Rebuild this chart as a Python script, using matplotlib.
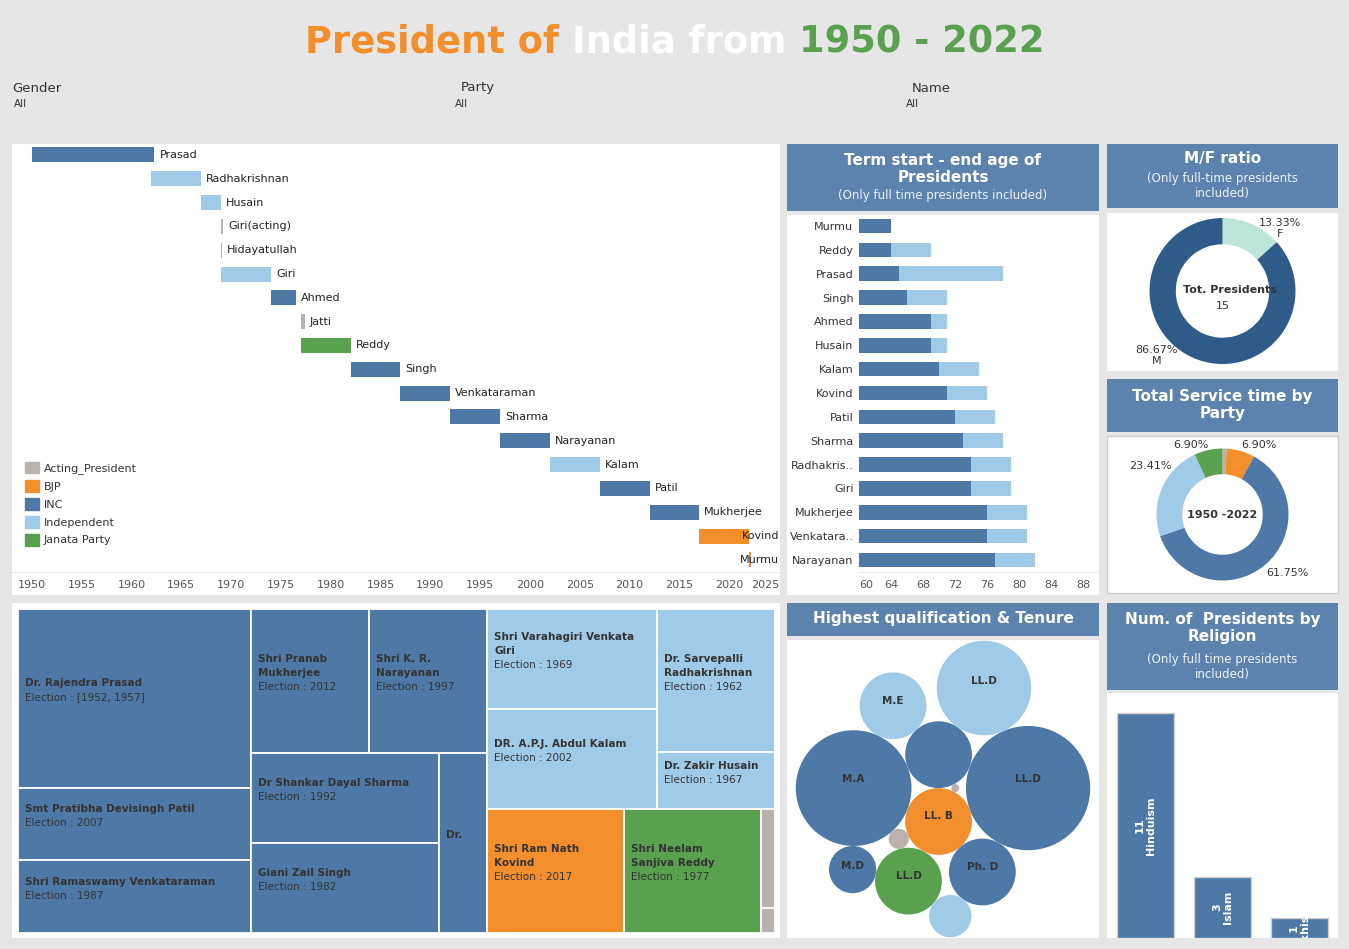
import matplotlib
matplotlib.use('Agg')
import matplotlib.pyplot as plt
from matplotlib.patches import Rectangle, Circle, Patch
import numpy as np

W, H = 1349, 949
BG = '#e6e6e6'
HDR = '#5b83ad'
TXT = '#333333'
party_colors = {'Acting_President': '#bab0ac', 'BJP': '#f28e2b', 'INC': '#4e79a7',
                'Independent': '#a0cbe8', 'Janata Party': '#59a14f'}

# --- gantt: term of each president
gantt_names = ['Prasad', 'Radhakrishnan', 'Husain', 'Giri(acting)', 'Hidayatullah', 'Giri', 'Ahmed',
               'Jatti', 'Reddy', 'Singh', 'Venkataraman', 'Sharma', 'Narayanan', 'Kalam', 'Patil',
               'Mukherjee', 'Kovind', 'Murmu']
gantt_start = [1950, 1962, 1967, 1969, 1969, 1969, 1974, 1977, 1977, 1982, 1987, 1992, 1997, 2002,
               2007, 2012, 2017, 2022]
gantt_end = [1962.3, 1967, 1969, 1969.2, 1969.1, 1974, 1976.5, 1977.4, 1982, 1987, 1992, 1997, 2002,
             2007, 2012, 2017, 2022, 2022.2]
gantt_party = ['INC', 'Independent', 'Independent', 'Acting_President', 'Acting_President', 'Independent',
               'INC', 'Acting_President', 'Janata Party', 'INC', 'INC', 'INC', 'INC', 'Independent',
               'INC', 'INC', 'BJP', 'BJP']

# --- term start / end age
age_names = ['Murmu', 'Reddy', 'Prasad', 'Singh', 'Ahmed', 'Husain', 'Kalam', 'Kovind', 'Patil', 'Sharma',
             'Radhakris..', 'Giri', 'Mukherjee', 'Venkatara..', 'Narayanan']
age_start = [64, 64, 65, 66, 69, 69, 70, 71, 72, 73, 74, 74, 76, 76, 77]
age_end = [64, 69, 78, 71, 71, 71, 75, 76, 77, 78, 79, 79, 81, 81, 82]

# --- gender ratio
mf_labels = ['F', 'M']
mf_counts = [2, 13]

# --- service time by party (%)
party_names = ['Acting_President', 'BJP', 'INC', 'Independent', 'Janata Party']
party_share = [1.04, 6.90, 61.75, 23.41, 6.90]

# --- treemap (tenure in years)
tm_group = ['INC', 'INC', 'INC', 'INC', 'INC', 'INC', 'INC', 'INC',
            'Independent', 'Independent', 'Independent', 'Independent',
            'BJP', 'Janata Party', 'Acting_President', 'Acting_President']
tm_names = ['Dr. Rajendra Prasad', 'Smt Pratibha Devisingh Patil', 'Shri Ramaswamy Venkataraman',
            'Shri Pranab\nMukherjee', 'Shri K. R.\nNarayanan', 'Dr Shankar Dayal Sharma', 'Giani Zail Singh',
            'Dr.', 'Shri Varahagiri Venkata\nGiri', 'DR. A.P.J. Abdul Kalam', 'Dr. Sarvepalli\nRadhakrishnan',
            'Dr. Zakir Husain', 'Shri Ram Nath\nKovind', 'Shri Neelam\nSanjiva Reddy', '', '']
tm_election = ['[1952, 1957]', '2007', '1987', '2012', '1997', '1992', '1982', '', '1969', '2002', '1962',
               '1967', '2017', '1977', '', '']
tm_years = [12.3, 5, 5, 5, 5, 5, 5, 2.55, 5, 5, 5, 2.0, 5, 5, 0.4, 0.1]

# --- qualification bubbles
bub_qual = ['', 'LL. B', 'LL.D', 'M.A', '', '', 'Ph. D', 'LL.D', 'M.E', 'LL.D', 'M.D', '']
bub_party = ['INC', 'BJP', 'INC', 'INC', 'Acting_President', 'Acting_President', 'INC', 'Janata Party',
             'Independent', 'Independent', 'INC', 'Independent']
bub_years = [5.0, 5.0, 17.3, 15.0, 0.45, 0.07, 5.0, 5.0, 5.0, 10.0, 2.5, 2.0]

# --- religion
rel_names = ['Hinduism', 'Islam', 'Sikhism']
rel_counts = [11, 3, 1]


def fbox(x0, y0, x1, y1):
    return [x0 / W, 1 - y1 / H, (x1 - x0) / W, (y1 - y0) / H]


def panel(x0, y0, x1, y1, color='white', ec='none'):
    fig.add_artist(Rectangle((x0 / W, 1 - y1 / H), (x1 - x0) / W, (y1 - y0) / H,
                             transform=fig.transFigure, fc=color, ec=ec, lw=1, zorder=-1))


def header(x0, y0, x1, y1, title, ty, sub=None, sy=None):
    panel(x0, y0, x1, y1, HDR)
    fig.text((x0 + x1) / 2 / W, 1 - ty / H, title, ha='center', va='center', color='white',
             fontsize=11, fontweight='bold', linespacing=1.1)
    if sub:
        fig.text((x0 + x1) / 2 / W, 1 - sy / H, sub, ha='center', va='center', color='#eef2f7',
                 fontsize=8.5, linespacing=1.15)


def squarify(values, x, y, w, h, k=2.6):
    # squarified layout, wide cells penalised less (text is horizontal)
    def score(cw, ch):
        return ch / cw if ch > cw else (cw / ch) / k

    def worst(row, rem, w, h):
        s = sum(row)
        if w >= h:
            cw = s / rem * w
            return max(score(cw, v / s * h) for v in row)
        rh = s / rem * h
        return max(score(v / s * w, rh) for v in row)

    rects = []
    i = 0
    while i < len(values):
        rem = sum(values[i:])
        j = i + 1
        while j < len(values) and worst(values[i:j + 1], rem, w, h) <= worst(values[i:j], rem, w, h):
            j += 1
        row = values[i:j]
        s = sum(row)
        if w >= h:
            cw = s / rem * w
            yy = y
            for v in row:
                ch = v / s * h
                rects.append((x, yy, cw, ch))
                yy += ch
            x += cw
            w -= cw
        else:
            rh = s / rem * h
            xx = x
            for v in row:
                cw = v / s * w
                rects.append((xx, y, cw, rh))
                xx += cw
            y += rh
            h -= rh
        i = j
    return rects


def pack_circles(radii):
    # greedy packing: each circle tangent to two placed ones, as near the start as possible
    n = len(radii)
    pos = [None] * n
    pos[0] = np.array([0.0, 0.0])
    pos[1] = np.array([0.0, -(radii[0] + radii[1])])
    cen = 0.45 * pos[0] + 0.55 * pos[1]
    placed = [0, 1]
    for i in range(2, n):
        r = radii[i]
        best, bestd = None, np.inf
        for ia in range(len(placed)):
            for ib in range(ia + 1, len(placed)):
                A, B = placed[ia], placed[ib]
                pa, pb = pos[A], pos[B]
                da, db = radii[A] + r, radii[B] + r
                d = np.linalg.norm(pb - pa)
                if d == 0 or d > da + db or d < abs(da - db):
                    continue
                a = (da ** 2 - db ** 2 + d ** 2) / (2 * d)
                hh = np.sqrt(max(da ** 2 - a ** 2, 0))
                base = pa + a * (pb - pa) / d
                perp = np.array([-(pb - pa)[1], (pb - pa)[0]]) / d
                for s in (1, -1):
                    c = base + s * hh * perp
                    if all(np.linalg.norm(c - pos[q]) >= radii[q] + r - 1e-6 for q in placed):
                        dist = np.linalg.norm(c - cen)
                        if dist < bestd - 1e-9:
                            best, bestd = c, dist
        pos[i] = best
        placed.append(i)
    return pos


fig = plt.figure(figsize=(W / 100, H / 100), dpi=100, facecolor=BG)
renderer = fig.canvas.get_renderer()

# title in three colours
parts = [('President of', '#f28e2b'), ('India from', 'white'), ('1950 - 2022', '#59a14f')]
tprops = dict(fontsize=26.5, fontweight='bold', va='center')
sp = fig.text(0, 0, 'a a', **tprops)
sp2 = fig.text(0, 0, 'aa', **tprops)
space = sp.get_window_extent(renderer).width - sp2.get_window_extent(renderer).width
sp.remove()
sp2.remove()
items = [fig.text(0, 1 - 42 / H, s, color=c, **tprops) for s, c in parts]
widths = [t.get_window_extent(renderer).width for t in items]
total = sum(widths) + space * (len(items) - 1)
xpos = (W - total) / 2
for t, w in zip(items, widths):
    t.set_x(xpos / W)
    xpos += w + space

# filters
for lab, x, xa in [('Gender', 12, 14), ('Party', 461, 455), ('Name', 912, 906)]:
    fig.text(x / W, 1 - 88 / H, lab, fontsize=9.5, color=TXT, va='center')
    fig.text(xa / W, 1 - 104 / H, 'All', fontsize=7.5, color=TXT, va='center')

# ---------------- gantt
panel(12, 144, 780, 595)
ax = fig.add_axes(fbox(12, 144, 780, 572))
ax.set_facecolor('none')
for i in range(len(gantt_names)):
    ax.barh(i, gantt_end[i] - gantt_start[i], left=gantt_start[i], height=0.63,
            color=party_colors[gantt_party[i]])
ax.set_xlim(1948.0, 2025.1)
ax.set_ylim(17.51, -0.46)
ax.set_yticks([])
ax.set_xticks(range(1950, 2026, 5))
ax.tick_params(axis='x', length=0, labelsize=8, labelcolor='#555555', pad=6)
ax.get_xticklabels()[-1].set_ha('right')
for s in ['top', 'left', 'right']:
    ax.spines[s].set_visible(False)
ax.spines['bottom'].set_color('#ebebeb')
ax_right = ax.get_window_extent(renderer).x1
for i, name in enumerate(gantt_names):
    t = ax.text(gantt_end[i] + 0.5, i, name, va='center', fontsize=8, color='#222222')
    if t.get_window_extent(renderer).x1 > ax_right:
        t.set_x(2025.0)
        t.set_ha('right')
handles = [Patch(color=party_colors[p], label=p) for p in party_names]
ax.legend(handles=handles, loc='upper left', bbox_to_anchor=(0.017, 0.258), frameon=False, fontsize=8,
          handlelength=1.25, handleheight=1.25, handletextpad=0.45, labelspacing=0.55, borderpad=0,
          borderaxespad=0, labelcolor='#333333')

# ---------------- term ages
header(787, 144, 1099, 211, 'Term start - end age of\nPresidents', 169, '(Only full time presidents included)', 196)
panel(787, 215, 1099, 595)
ax2 = fig.add_axes(fbox(859, 215, 1099, 572))
ax2.set_facecolor('none')
yy = np.arange(len(age_names))
ax2.barh(yy, age_start, height=0.61, color=party_colors['INC'])
ax2.barh(yy, np.array(age_end) - np.array(age_start), left=age_start, height=0.61,
         color=party_colors['Independent'])
ax2.set_xlim(60, 90)
ax2.set_ylim(14.5, -0.46)
ax2.set_yticks(yy)
ax2.set_yticklabels(age_names)
ax2.set_xticks(range(60, 89, 4))
ax2.tick_params(axis='y', length=0, labelsize=8, labelcolor=TXT, pad=4)
ax2.tick_params(axis='x', length=0, labelsize=8, labelcolor='#555555', pad=6)
ax2.get_xticklabels()[0].set_ha('left')
for s in ['top', 'left', 'right']:
    ax2.spines[s].set_visible(False)
ax2.spines['bottom'].set_color('#ebebeb')

# ---------------- M/F donut
header(1107, 144, 1338, 208, 'M/F ratio', 159, '(Only full-time presidents\nincluded)', 186)
panel(1107, 213, 1338, 371)
ax3 = fig.add_axes(fbox(1107, 213, 1338, 371))
ax3.pie(mf_counts, colors=['#bde4d8', '#2e5b88'], startangle=90, counterclock=False,
        wedgeprops=dict(width=0.36, edgecolor='none'))
ax3.set_xlim(-115.5 / 73, 115.5 / 73)
ax3.set_ylim(-80 / 73, 78 / 73)
ax3.set_aspect('equal', adjustable='datalim')
tot = sum(mf_counts)
for (x, y), lab, c in zip([(0.79, 0.86), (-0.9, -0.88)], mf_labels, mf_counts):
    ax3.text(x, y, f'{c / tot * 100:.2f}%\n{lab}', ha='center', va='center', fontsize=8, color=TXT,
             linespacing=1.1)
ax3.text(0.1, 0.02, 'Tot. Presidents', ha='center', va='center', fontsize=8, fontweight='bold', color=TXT)
ax3.text(0, -0.2, str(tot), ha='center', va='center', fontsize=8, color=TXT)

# ---------------- party donut
header(1107, 379, 1338, 432, 'Total Service time by\nParty', 405)
panel(1107, 436, 1338, 593, ec='#cccccc')
ax4 = fig.add_axes(fbox(1107, 436, 1338, 593))
ax4.pie(party_share, colors=[party_colors[p] for p in party_names], startangle=90, counterclock=False,
        wedgeprops=dict(width=0.39, edgecolor='none'))
ax4.set_xlim(-115.5 / 66, 115.5 / 66)
ax4.set_ylim(-78.5 / 66, 78.5 / 66)
ax4.set_aspect('equal', adjustable='datalim')
party_lab_xy = [None, (0.545, 1.06), (0.985, -0.88), (-1.1, 0.73), (-0.485, 1.06)]
for xy, v in zip(party_lab_xy, party_share):
    if xy:
        ax4.text(xy[0], xy[1], f'{v:.2f}%', ha='center', va='center', fontsize=8, color=TXT)
ax4.text(0, 0, f'{int(min(gantt_start))} -2022', ha='center', va='center', fontsize=8, fontweight='bold',
         color=TXT)

# ---------------- treemap
panel(12, 603, 780, 938)
ax7 = fig.add_axes(fbox(18, 609, 775, 933))
ax7.set_axis_off()
TW, TH = 757, 324
ax7.set_xlim(0, TW)
ax7.set_ylim(TH, 0)
groups = []
for g in tm_group:
    if g not in groups:
        groups.append(g)
gsum = [sum(v for v, gg in zip(tm_years, tm_group) if gg == g) for g in groups]
gorder = sorted(range(len(groups)), key=lambda i: -gsum[i])
grects = squarify([gsum[i] for i in gorder], 0, 0, TW, TH)
for gi, (gx, gy, gw, gh) in zip(gorder, grects):
    idx = [i for i, gg in enumerate(tm_group) if gg == groups[gi]]
    idx = sorted(idx, key=lambda i: -tm_years[i])
    rects = squarify([tm_years[i] for i in idx], gx, gy, gw, gh)
    for i, (x, y, w, h) in zip(idx, rects):
        ax7.add_patch(Rectangle((x, y), w, h, fc=party_colors[tm_group[i]], ec='white', lw=1.3))
        lines = []
        if tm_names[i]:
            lines += [(l, 'bold') for l in tm_names[i].split('\n')]
        if tm_election[i]:
            lines.append(('Election : ' + tm_election[i], 'normal'))
        n = len(lines)
        for k, (txt, fw) in enumerate(lines):
            ty = y + h / 2 - 8 - n * 14 / 2 + 14 * (k + 0.5)
            ax7.text(x + 7, ty, txt, fontsize=7.5, fontweight=fw, color=TXT, va='center', clip_on=True)

# ---------------- qualification bubbles
header(787, 603, 1099, 636, 'Highest qualification & Tenure', 619)
panel(787, 640, 1099, 938)
ax6 = fig.add_axes(fbox(787, 640, 1099, 938))
ax6.set_axis_off()
radii = [np.sqrt(v) for v in bub_years]
centers = pack_circles(radii)
for c, r, q, p in zip(centers, radii, bub_qual, bub_party):
    ax6.add_patch(Circle(c, r, fc=party_colors[p], ec='none'))
    if q:
        ax6.text(c[0], c[1] + 0.15 * r, q, ha='center', va='center', fontsize=7.5, fontweight='bold', color=TXT)
xs = [c[0] for c in centers]
ys = [c[1] for c in centers]
ax6.set_xlim(min(x - r for x, r in zip(xs, radii)) - 0.05, max(x + r for x, r in zip(xs, radii)) + 0.05)
ax6.set_ylim(min(y - r for y, r in zip(ys, radii)) - 0.05, max(y + r for y, r in zip(ys, radii)) + 0.05)
ax6.set_aspect('equal', adjustable='datalim')

# ---------------- religion
header(1107, 603, 1338, 690, 'Num. of  Presidents by\nReligion', 628, '(Only full time presidents\nincluded)', 667)
panel(1107, 693, 1338, 938)
ax5 = fig.add_axes(fbox(1107, 693, 1338, 938))
ax5.set_axis_off()
ax5.bar(range(len(rel_names)), rel_counts, width=0.75, color=party_colors['INC'], edgecolor='#cfcfcf', lw=1)
ax5.set_xlim(-0.5, 2.5)
ax5.set_ylim(0, 12)
for i, (nm, v) in enumerate(zip(rel_names, rel_counts)):
    ax5.text(i, v / 2, f'{v}\n{nm}', rotation=90, ha='center', va='center', fontsize=8, fontweight='bold',
             color='white', multialignment='center', clip_on=True, linespacing=1.1)

fig.savefig('out.png', dpi=100, facecolor=BG)
